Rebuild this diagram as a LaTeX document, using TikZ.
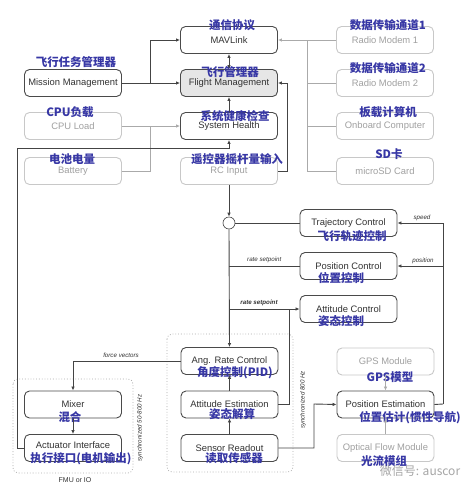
\documentclass[tikz,border=0pt]{standalone}
\usepackage{fontspec}
\setmainfont{Liberation Sans}
\newfontfamily\cjk{Noto Sans CJK SC}
\usetikzlibrary{arrows.meta}
\definecolor{boxc}{HTML}{4A4A4A}
\definecolor{txtc}{HTML}{333333}
\definecolor{lightc}{HTML}{C8C8C8}
\definecolor{ltxt}{HTML}{A0A0A0}
\definecolor{zhc}{RGB}{55,55,165}
\definecolor{linec}{HTML}{444444}
\definecolor{glc}{HTML}{AAAAAA}
\definecolor{grpc}{HTML}{AAAAAA}
\definecolor{fmfill}{HTML}{E6E6E6}
\tikzset{
  box/.style={draw=boxc, rounded corners=5pt, minimum width=97pt, minimum height=27pt, inner sep=0pt, font=\fontsize{9.4}{10}\selectfont, text=txtc, line width=0.9pt},
  lbox/.style={box, draw=lightc, text=ltxt},
  zh/.style={font=\cjk\bfseries\fontsize{11.5}{12}\selectfont, text=zhc, inner sep=0pt},
  ln/.style={draw=linec, line width=0.9pt},
  arr/.style={ln, -{Latex[length=4pt,width=3.5pt]}},
  darr/.style={ln, {Latex[length=4pt,width=3.5pt]}-{Latex[length=4pt,width=3.5pt]}},
  gl/.style={draw=glc, line width=0.9pt},
  garr/.style={gl, -{Latex[length=4pt,width=3.5pt]}},
  sm/.style={font=\itshape\fontsize{6.2}{7}\selectfont, text=txtc, inner sep=0pt},
  grp/.style={draw=grpc, dotted, rounded corners=5pt, line width=0.8pt},
}
\begin{document}
\begin{tikzpicture}[x=1pt,y=-1pt]
\fill[white] (0,0) rectangle (474,491);
\useasboundingbox (0,0) rectangle (474,491);

% groups
\draw[grp] (167,334) rectangle (293,472);
\draw[grp] (13,379) rectangle (133,473);
\node[sm, rotate=90] (sync800) at (303,400) {synchronized 800 Hz};
\node[sm, rotate=90] (sync50) at (140,428) {synchronized 50-800 Hz};
\node[font=\fontsize{7}{8}\selectfont, text=txtc] (fmuio) at (75,480) {FMU or IO};

% top-left column
\node[box] (mission) at (73,83) {Mission Management};
\node[lbox] (cpu) at (73,126) {CPU Load};
\node[lbox] (battery) at (73,171) {Battery};
% middle column
\node[box] (mav) at (229,40) {MAVLink};
\node[box, fill=fmfill] (fm) at (229,83) {Flight Management};
\node[box] (sh) at (229,126) {System Health};
\node[lbox] (rc) at (229,171) {RC Input};
% right column
\node[lbox] (rm1) at (385,40) {Radio Modem 1};
\node[lbox] (rm2) at (385,83) {Radio Modem 2};
\node[lbox] (obc) at (385,126) {Onboard Computer};
\node[lbox] (sd) at (385,171) {microSD Card};

% controllers
\node[draw=linec, fill=white, circle, minimum size=12pt, inner sep=0pt, line width=0.6pt] (sw) at (229,223) {};
\node[box] (traj) at (348.5,223) {Trajectory Control};
\node[box] (posc) at (348.5,266) {Position Control};
\node[box] (attc) at (348.5,309) {Attitude Control};
\node[box] (arc) at (229.5,361) {Ang. Rate Control};
\node[box] (ae) at (229.5,404.5) {Attitude Estimation};
\node[box] (sr) at (229.5,448) {Sensor Readout};
\node[box] (mixer) at (73,404.5) {Mixer};
\node[box, text depth=0pt, text height=7pt, yshift=0pt] (act) at (73,448) {};
\node[font=\fontsize{9.4}{10}\selectfont, text=txtc, inner sep=0pt] (acttxt) at (73,445.5) {Actuator Interface};
\node[lbox] (gps) at (385.5,361.5) {GPS Module};
\node[box] (pe) at (385.5,404.5) {Position Estimation};
\node[lbox] (of) at (385.5,448) {Optical Flow Module};

% Chinese labels
\node[zh] (zmission) at (76,62) {飞行任务管理器};
\node[zh] (zcpu) at (70,112) {CPU负载};
\node[zh] (zbat) at (72,159) {电池电量};
\node[zh] (zmav) at (232,25) {通信协议};
\node[zh] (zfm) at (230,72) {飞行管理器};
\node[zh] (zsh) at (235,116) {系统健康检查};
\node[zh] (zrc) at (237,159) {遥控器摇杆量输入};
\node[zh] (zrm1) at (388,25) {数据传输通道1};
\node[zh] (zrm2) at (388,68) {数据传输通道2};
\node[zh] (zobc) at (388,112) {板载计算机};
\node[zh] (zsd) at (389,154) {SD卡};
\node[zh] (ztraj) at (352,236) {飞行轨迹控制};
\node[zh] (zposc) at (341,278) {位置控制};
\node[zh] (zattc) at (341,321) {姿态控制};
\node[zh] (zarc) at (235,373) {角度控制(PID)};
\node[zh] (zae) at (232,414) {姿态解算};
\node[zh] (zsr) at (234,458) {读取传感器};
\node[zh] (zmixer) at (70,417) {混合};
\node[zh] (zact) at (81,459) {执行接口(电机输出)};
\node[zh] (zgps) at (390,377) {GPS模型};
\node[zh] (zpe) at (410,418) {位置估计(惯性导航)};
\node[zh] (zof) at (384,461) {光流模组};
\node[font=\cjk\fontsize{12}{13}\selectfont, text=black!35, inner sep=0pt] (wm) at (420,471) {微信号: auscor};

% coordinates
\coordinate (j1) at (150,83);
\coordinate (jb) at (150,126);
\coordinate (c1) at (17,148);
\coordinate (c2) at (287,171);
\coordinate (bus) at (307,40);
\coordinate (c3) at (289,309);
\coordinate (c4) at (314,404);
\coordinate (c5) at (443,404);

% top connections
\draw[arr] (mission.east) -- (fm.west);
\draw[arr] (j1) |- (mav.west);
\draw[darr] (mav.south) -- (fm.north);
\draw[arr] (sh.north) -- (fm.south);
\draw[garr] (cpu.east) -- (sh.west);
\draw[gl] (battery.east) -| (jb);
\draw[arr] (act.west) -| (c1) -| (sh.south);
\draw[arr] (rc.east) -- (c2) |- (fm.east);
\draw[garr] (rm1.west) -- (mav.east);
\draw[gl] (sd.west) -| (bus);
\draw[gl] (rm2.west) -- (rm2.west -| bus);
\draw[gl] (obc.west) -- (obc.west -| bus);

% control loop
\draw[arr] (rc.south) -- (sw.north);
\draw[ln] (sw.east) -- (traj.west);
\draw[ln] (posc.west) -- node[sm, above=2.5pt, pos=0.5] (lrs1) {rate setpoint} (posc.west -| sw);
\draw[ln] (attc.west -| sw) -- node[sm, above=2.5pt, pos=0.5, font=\bfseries\itshape\fontsize{6.2}{7}\selectfont] (lrs2) {rate setpoint} (c3);
\draw[arr] (ae.east) -| (c3) -- (attc.west);
\draw[arr] (sw.south) -- (arc.north);
\draw[arr] (ae.north) -- (arc.south);
\draw[arr] (sr.north) -- (ae.south);
\draw[arr] (arc.west) -| (mixer.north);
\node[sm] (lfv) at (121,355) {force vectors};
\draw[arr] (mixer.south) -- (act.north);
\draw[arr] (sr.east) -| (c4) -- (pe.west);
\draw[garr] (gps.south) -- (pe.north);
\draw[garr] (of.north) -- (pe.south);
\draw[ln] (pe.east) -- (c5);
\draw[arr] (c5) |- (traj.east);
\draw[arr] (c5 |- posc.east) -- (posc.east);
\node[sm] (lspeed) at (422,218) {speed};
\node[sm] (lpos) at (423,261) {position};
\end{tikzpicture}
\end{document}
